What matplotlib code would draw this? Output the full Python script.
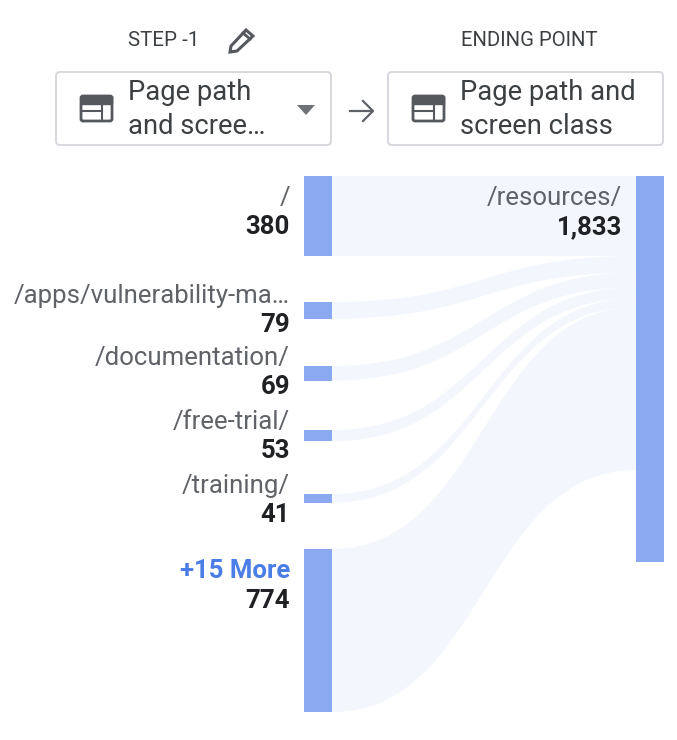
import matplotlib
matplotlib.use('Agg')
import matplotlib.pyplot as plt
from matplotlib.patches import FancyBboxPatch, PathPatch, Polygon, Rectangle
from matplotlib.path import Path

# data
left_labels = ['/', '/apps/vulnerability-ma…', '/documentation/', '/free-trial/', '/training/', '+15 More']
left_values = [380, 79, 69, 53, 41, 774]
left_value_text = ['380', '79', '69', '53', '41', '774']
right_label = '/resources/'
right_value = 1833
right_value_text = '1,833'

# layout, in pixels of the picture
px_per_unit = 0.2106
left_tops = [176, 302, 366, 430, 494, 549]
left_text_y = [198, 295.5, 358.5, 422.5, 486.5, 571.5]
right_top = 176
bar_w = 28
left_x = 304
right_x = 636

bar_color = '#8aa9f1'
flow_color = '#f3f6fd'
grey = '#5f6368'
dark = '#202124'
blue = '#4a7de6'

plt.rcParams['font.family'] = ['Roboto', 'DejaVu Sans']

fig = plt.figure(figsize=(6.77, 7.40), dpi=100)
ax = fig.add_axes([0, 0, 1, 1])
ax.set_xlim(0, 677)
ax.set_ylim(740, 0)
ax.axis('off')


def ribbon(y0_top, y0_bot, y1_top, y1_bot):
    x0 = left_x + bar_w
    x1 = right_x
    xm = (x0 + x1) / 2
    verts = [(x0, y0_top), (xm, y0_top), (xm, y1_top), (x1, y1_top),
             (x1, y1_bot), (xm, y1_bot), (xm, y0_bot), (x0, y0_bot), (x0, y0_top)]
    codes = [Path.MOVETO, Path.CURVE4, Path.CURVE4, Path.CURVE4,
             Path.LINETO, Path.CURVE4, Path.CURVE4, Path.CURVE4, Path.CLOSEPOLY]
    ax.add_patch(PathPatch(Path(verts, codes), fc=flow_color, ec='none', zorder=1))


# flows stack up on the right bar in the order of the left bars
y_right = right_top
for top, v in zip(left_tops, left_values):
    h = v * px_per_unit
    ribbon(top, top + h, y_right, y_right + h)
    y_right += h

# bars
ax.bar([left_x] * len(left_values), [v * px_per_unit for v in left_values], bottom=left_tops,
       width=bar_w, align='edge', color=bar_color, zorder=2)
ax.bar([right_x], [right_value * px_per_unit], bottom=[right_top],
       width=bar_w, align='edge', color=bar_color, zorder=2)

# node labels
for i, lab in enumerate(left_labels):
    more = lab.startswith('+')
    ax.text(290, left_text_y[i], lab, ha='right', va='center', fontsize=18.5,
            color=blue if more else grey, fontweight='bold' if more else 'normal', zorder=3)
    ax.text(290, left_text_y[i] + 29, left_value_text[i], ha='right', va='center', fontsize=18.5,
            color=dark, fontweight='bold', zorder=3)
ax.text(622, 198, right_label, ha='right', va='center', fontsize=18.5, color=grey, zorder=3)
ax.text(622, 227, right_value_text, ha='right', va='center', fontsize=18.5, color=dark,
        fontweight='bold', zorder=3)

# column headers
ax.text(128, 41, 'STEP -1', ha='left', va='center', fontsize=14.8, color='#3c4043')
ax.text(461, 41, 'ENDING POINT', ha='left', va='center', fontsize=14.6, color='#3c4043')

# pencil
ax.add_patch(Polygon([(231, 46), (246, 30), (253, 36), (237, 51), (230, 52)],
                     closed=True, fc='none', ec='#55595e', lw=2.2))
ax.plot([243, 250], [33, 39], color='#55595e', lw=2)


def dim_box(x0, x1, line1, line2):
    ax.add_patch(FancyBboxPatch((x0, 72), x1 - x0, 73, boxstyle='round,pad=0,rounding_size=4',
                                fc='white', ec='#d6d8de', lw=1.4))
    # table icon
    ix = x0 + 25
    ax.add_patch(FancyBboxPatch((ix, 96), 31, 25, boxstyle='round,pad=0,rounding_size=2',
                                fc='white', ec='#55595e', lw=2))
    ax.add_patch(Rectangle((ix, 96), 31, 8, fc='#55595e', ec='#55595e', lw=1))
    ax.plot([ix, ix + 21], [111, 111], color='#55595e', lw=1.5)
    ax.plot([ix + 21, ix + 21], [104, 121], color='#55595e', lw=1.5)
    ax.text(x0 + 72, 93, line1, ha='left', va='center', fontsize=19.7, color='#3c4043')
    ax.text(x0 + 72, 127, line2, ha='left', va='center', fontsize=19.7, color='#3c4043')


dim_box(56, 331, 'Page path', 'and scree…')
dim_box(388, 663, 'Page path and', 'screen class')

# dropdown triangle
ax.add_patch(Polygon([(297, 105), (315, 105), (306, 115)], closed=True, fc='#6f7378', ec='none'))

# arrow between boxes
ax.plot([350, 372], [111, 111], color='#5f6368', lw=1.6)
ax.plot([363, 373, 363], [101, 111, 121], color='#5f6368', lw=1.6)

fig.savefig('out.png', dpi=100, facecolor='white')
